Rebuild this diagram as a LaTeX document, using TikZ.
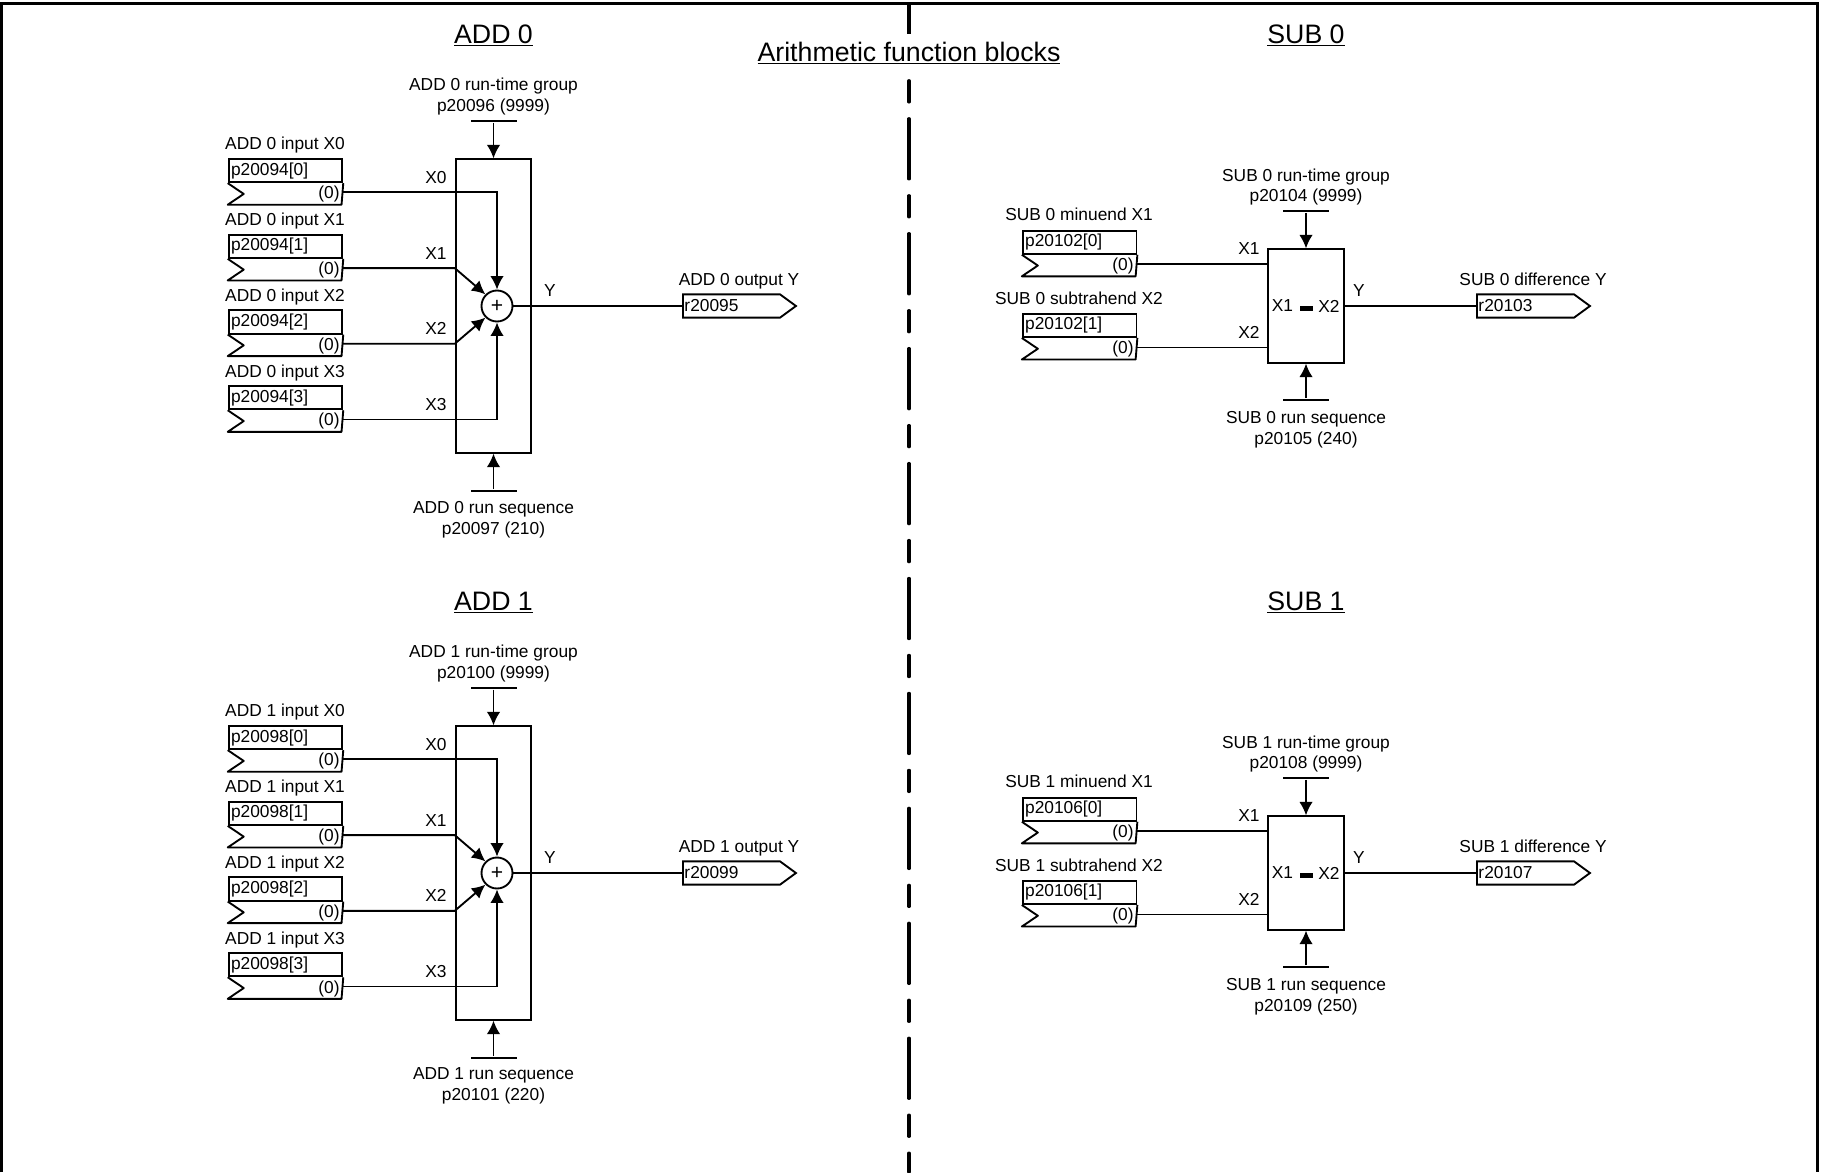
\documentclass[tikz,border=0pt]{standalone}
\usepackage{fontspec}
\setmainfont{Liberation Sans}
\usetikzlibrary{arrows.meta,shapes.symbols}

\begin{document}
\begin{tikzpicture}[
		x=0.03cm, y=-0.03cm, line width=1.6pt,
		font=\fontsize{14.8}{17.9}\selectfont,
		lbl/.style={align=center, inner sep=0pt},
		head/.style={inner sep=0pt, font=\fontsize{22.8}{26}\selectfont},
		parbox/.style={draw, minimum height=0.696cm, text width=3.27cm, inner xsep=0.07cm, inner ysep=0pt, align=left},
		defval/.style={anchor=east, inner sep=0pt},
		funcbox/.style={draw, minimum width=2.27cm},
		outbox/.style={shape=signal, draw, signal to=east, signal from=nowhere, signal pointer angle=72.4, anchor=west,
			minimum width=3.39cm, minimum height=0.70cm, text width=2.82cm, inner xsep=0.03cm, inner ysep=0pt, align=left},
		sumnode/.style={circle, draw, minimum size=0.93cm, inner sep=0pt, font=\fontsize{18}{18}\selectfont},
		bar/.style={fill=black, minimum width=1.38cm, minimum height=1.6pt, inner sep=0pt},
		minusbar/.style={fill=black, minimum width=0.38cm, minimum height=0.14cm, inner sep=0pt},
		arrow/.style={-{Latex[length=11.5pt,width=11.5pt]}}
	]
	\useasboundingbox (0,0) rectangle (1825,1172);

	% frame and centre line
	\draw[line width=2.6pt] (1.5,1172) -- (1.5,3.7) -- (1817,3.7) -- (1817,1172);
	\draw[line width=2.6pt, line cap=round, dash pattern=on 51.5pt off 14.2pt on 18.2pt off 14.2pt] (909,3.7) -- (909,1172);
	\node[head, fill=white, inner ysep=7pt] (title) at (909,53) {\underline{Arithmetic function blocks}};

	% adders
	\foreach \n/\dy/\ip/\op/\rt/\sq/\sv in {0/0/20094/20095/20096/20097/210, 1/567/20098/20099/20100/20101/220} {
		\begin{scope}[shift={(0,\dy)}]
			\node[head] (add\n head) at (493.5,35.3) {\underline{ADD \n}};
			\node[funcbox, minimum height=8.80cm] (add\n) at (493.5,306) {};
			\node[sumnode] (add\n sum) at (497,306) {+};
			\node[lbl] (add\n rtlbl) at (493.5,96.3) {ADD \n\ run-time group\\p\rt\ (9999)};
			\node[bar] (add\n rtbar) at (493.5,120.7) {};
			\node[bar] (add\n sqbar) at (493.5,491) {};
			\node[lbl] (add\n sqlbl) at (493.5,519.3) {ADD \n\ run sequence\\p\sq\ (\sv)};
			\node[lbl] (add\n ylbl) at (550,290.5) {Y};
			\node[lbl] (add\n outlbl) at (739,281) {ADD \n\ output Y};
			\node[outbox] (add\n out) at (682,306) {r\op};

			\foreach \k in {0,...,3} {
				\node[lbl] (add\n lbl\k) at (285,145.5+75.7*\k) {ADD \n\ input X\k};
				\node[parbox] (add\n par\k) at (285.5,170.6+75.7*\k) {p\ip[\k]};
				\node[defval] (add\n def\k) at (340.5,194.4+75.7*\k) {(0)};
				\coordinate (add\n port\k) at (342.4,192.4+75.7*\k);
				\draw[line join=round] (add\n par\k.south west) -- ++(16,10.8) -- ++(-16,10.8) -- ++(113.8,0) -- (add\n par\k.south east);
				\node[lbl] (add\n x\k) at (436,177.7+75.5*\k) {X\k};
			}

			\draw[arrow] (add\n rtbar) -- (add\n.north);
			\draw[arrow] (add\n sqbar) -- (add\n.south);
			\draw[arrow] (add\n port0) -| (add\n sum.north);
			\draw[arrow] (add\n port1) -- (add\n port1 -| add\n.west) -- (add\n sum.135);
			\draw[arrow] (add\n port2) -- (add\n port2 -| add\n.west) -- (add\n sum.225);
			\draw[arrow] (add\n port3) -| (add\n sum.south);
			\draw (add\n sum) -- (add\n out.west);
		\end{scope}
	}

	% subtractors
	\foreach \n/\dy/\ip/\op/\rt/\sq/\sv in {0/0/20102/20103/20104/20105/240, 1/567/20106/20107/20108/20109/250} {
		\begin{scope}[shift={(0,\dy)}]
			\node[head] (sub\n head) at (1306,35.3) {\underline{SUB \n}};
			\node[funcbox, minimum height=3.4cm] (sub\n) at (1306,306) {};
			\node[lbl] (sub\n a) at (1282.4,306) {X1};
			\node[minusbar] (sub\n minus) at (1306.7,308.7) {};
			\node[lbl] (sub\n b) at (1329,306) {X2};
			\node[lbl] (sub\n rtlbl) at (1306,187) {SUB \n\ run-time group\\p\rt\ (9999)};
			\node[bar] (sub\n rtbar) at (1306,211) {};
			\node[bar] (sub\n sqbar) at (1306,400) {};
			\node[lbl] (sub\n sqlbl) at (1306,429.5) {SUB \n\ run sequence\\p\sq\ (\sv)};
			\node[lbl] (sub\n ylbl) at (1359,291) {Y};
			\node[lbl] (sub\n outlbl) at (1533,279) {SUB \n\ difference Y};
			\node[outbox] (sub\n out) at (1476,306) {r\op};

			\foreach \k/\j/\nm in {0/1/minuend, 1/2/subtrahend} {
				\node[lbl] (sub\n lbl\k) at (1079,214.3+84*\k) {SUB \n\ \nm\ X\j};
				\node[parbox] (sub\n par\k) at (1079.6,242.2+83.2*\k) {p\ip[\k]};
				\node[defval] (sub\n def\k) at (1134.5,266+83.2*\k) {(0)};
				\coordinate (sub\n port\k) at (1136.5,264.3+83.2*\k);
				\draw[line join=round] (sub\n par\k.south west) -- ++(16,10.8) -- ++(-16,10.8) -- ++(113.8,0) -- (sub\n par\k.south east);
				\node[lbl] (sub\n x\k) at (1249,249+83*\k) {X\j};
				\draw (sub\n port\k) -- (sub\n port\k -| sub\n.west);
			}

			\draw[arrow] (sub\n rtbar) -- (sub\n.north);
			\draw[arrow] (sub\n sqbar) -- (sub\n.south);
			\draw (sub\n.east) -- (sub\n out.west);
		\end{scope}
	}
\end{tikzpicture}
\end{document}
